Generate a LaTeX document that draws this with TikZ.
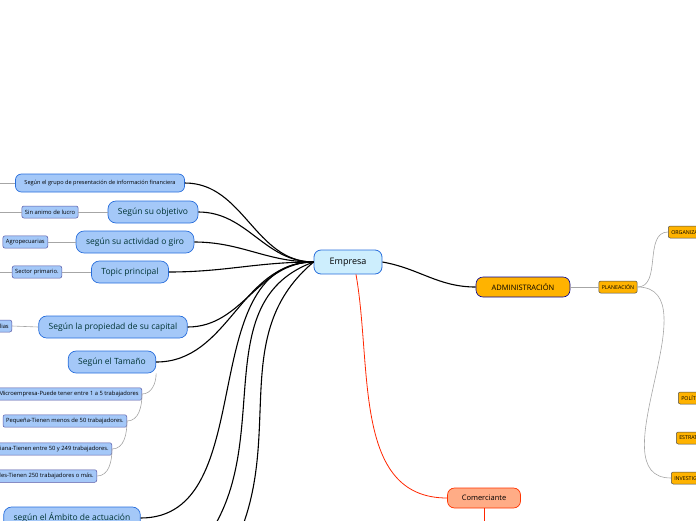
\documentclass[tikz,border=0pt]{standalone}
\usepackage{fontspec}
\setmainfont{Open Sans}
\definecolor{bfill}{RGB}{164,200,248}
\definecolor{bdraw}{RGB}{40,110,220}
\definecolor{efill}{RGB}{205,238,253}
\definecolor{ofill}{RGB}{255,179,0}
\begin{document}
\begin{tikzpicture}[x=1pt,y=-1pt,
 main/.style={draw=bdraw,line width=0.8pt,fill=efill,rounded corners=7pt,minimum width=68pt,minimum height=24pt,font=\fontsize{9}{10}\selectfont},
 big/.style={draw=bdraw,line width=0.7pt,fill=bfill,rounded corners=8pt,minimum height=22pt,inner xsep=10pt,font=\fontsize{8.5}{10}\selectfont,text=teal!40!black},
 med/.style={draw=bdraw,line width=0.7pt,fill=bfill,rounded corners=6pt,minimum height=18pt,inner xsep=9pt,font=\fontsize{5.6}{6}\selectfont},
 sub/.style={draw=gray!70!blue,line width=0.5pt,fill=bfill,rounded corners=2pt,minimum height=12pt,inner xsep=3pt,font=\fontsize{5.8}{6}\selectfont},
 org/.style={draw=gray!60!black,line width=0.5pt,fill=ofill,rounded corners=2pt,minimum height=12pt,inner xsep=3pt,font=\fontsize{5.3}{6}\selectfont},
 blk/.style={line width=1.1pt,black},
 gl/.style={line width=0.6pt,gray!70}]
\clip (0,0) rectangle (696,520);
\useasboundingbox (0,0) rectangle (696,520);
\node[main] (E) at (348,262) {Empresa};
\node[draw=blue!60!black,line width=0.6pt,fill=ofill,rounded corners=7pt,minimum width=94pt,minimum height=20pt,font=\fontsize{7.5}{9}\selectfont] (A) at (523,287) {ADMINISTRACIÓN};
\node[org] (P) at (618,287) {PLANEACIÓN};
\node[org,anchor=west] (O) at (668,232) {ORGANIZACIÓN};
\node[org,anchor=west] (PO) at (678,398) {POLÍTICAS};
\node[org,anchor=west] (ES) at (676,438) {ESTRATEGIAS};
\node[org,anchor=west] (IN) at (671,478) {INVESTIGACIÓN};
\node[draw=red!60!orange,line width=0.7pt,fill=orange!30!pink,rounded corners=7pt,minimum width=73pt,minimum height=20pt,font=\fontsize{7.5}{9}\selectfont] (C) at (484,498) {Comerciante};
\draw[blk] (E.east) to[out=-10,in=180] (A.west);
\draw[gl] (A.east) -- (P.west);
\draw[gl] (P.east) to[out=0,in=180] (O.west);
\draw[gl] (P.east) to[out=0,in=180] (IN.west);
\draw[line width=0.8pt,red!70!orange] (E.south) ++(8,0) coordinate(e1) (e1) to[out=-80,in=180] (C.west);
\draw[line width=0.8pt,red!70!orange] (C.south) -- ++(0,15);
\node[med] (G) at (100,183) {Según el grupo de presentación de información financiera};
\node[big] (OB) at (153,212) {Según su objetivo};
\node[big] (AC) at (135,242) {según su actividad o giro};
\node[big] (TP) at (130,272) {Topic principal};
\node[big] (PR) at (113,327) {Según la propiedad de su capital};
\node[big] (TA) at (112,362) {Según el Tamaño};
\node[big] (AM) at (72,518) {según el Ámbito de actuación};
\node[sub] (s1) at (50,212) {Sin animo de lucro};
\node[sub,anchor=east] (s2) at (48,242) {Agropecuarias};
\node[sub] (s3) at (37,272) {Sector primario.};
\node[sub,anchor=east] (s4) at (12,326) {Familias};
\node[sub,anchor=east] (t1) at (142,394) {Microempresa-Puede tener entre 1  a 5 trabajadores};
\node[sub,anchor=east] (t2) at (127,421) {Pequeña-Tienen menos de 50 trabajadores.};
\node[sub,anchor=east] (t3) at (112,449) {Mediana-Tienen entre 50 y 249 trabajadores.};
\node[sub,anchor=east] (t4) at (97,476) {Grandes-Tienen 250 trabajadores o más.};
\coordinate (x0) at (-5,183);
\coordinate (x1) at (-5,212);
\coordinate (x3) at (-5,272);
\coordinate (b1) at (215,525);
\coordinate (b2) at (243,525);
\draw[gl] (G.west) -- (x0);
\draw[gl] (OB.west) -- (s1.east) (s1.west) -- (x1);
\draw[gl] (AC.west) -- (s2.east);
\draw[gl] (TP.west) -- (s3.east) (s3.west) -- (x3);
\draw[gl] (PR.west) -- (s4.east);
\draw[gl] (TA.south east) to[out=-90,in=0] (t1.east);
\draw[gl] (t1.east) to[out=-90,in=0] (t2.east);
\draw[gl] (t2.east) to[out=-90,in=0] (t3.east);
\draw[gl] (t3.east) to[out=-90,in=0] (t4.east);
\foreach \n in {G,OB,AC,TP,PR,TA,AM}{\draw[blk] (E.west) to[out=180,in=0] (\n.east);}
\draw[blk] (E.west) to[out=200,in=60] (b1);
\draw[blk] (E.west) to[out=220,in=70] (b2);
\end{tikzpicture}
\end{document}
